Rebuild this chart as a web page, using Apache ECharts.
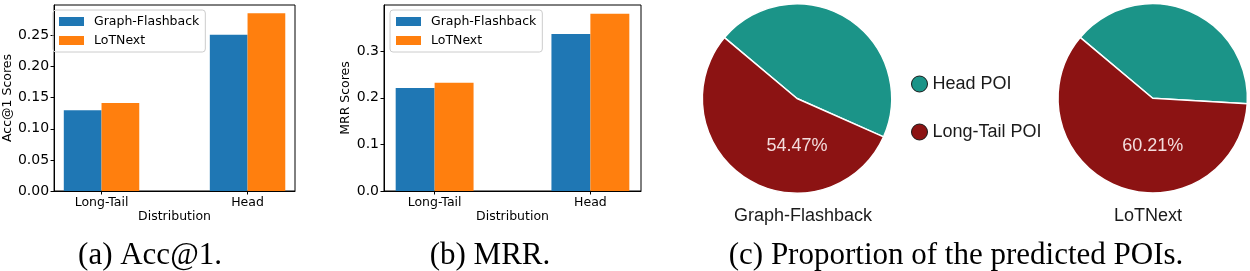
<!DOCTYPE html>
<html>
<head>
<meta charset="utf-8">
<script src="https://cdn.jsdelivr.net/npm/echarts@6.0.0/dist/echarts.min.js"></script>
<style>
  html, body { margin: 0; padding: 0; background: #fff; }
  #chart { width: 1250px; height: 271px; }
</style>
</head>
<body>
<div id="chart"></div>
<script>
const categories = ['Long-Tail', 'Head']
const methods = ['Graph-Flashback', 'LoTNext']
const acc1Flashback = [0.130, 0.251]
const acc1LoTNext = [0.1415, 0.2857]
const mrrFlashback = [0.2207, 0.337]
const mrrLoTNext = [0.232, 0.380]
const poiTypes = ['Head POI', 'Long-Tail POI']
const flashbackShare = [45.53, 54.47]
const lotnextShare = [39.79, 60.21]
const captions = ['(a) Acc@1.', '(b) MRR.', '(c) Proportion of the predicted POIs.']

const barColors = ['#1f77b4', '#ff7f0e']
const pieColors = ['#1b9488', '#8c1313']
const mpl = 'DejaVu Sans'
const sans = 'Liberation Sans'

const grids = [
  { left: 46, top: 5, width: 249, height: 186 },
  { left: 384, top: 5, width: 257, height: 186 },
]
const xMin = -0.325
const xMax = 1.325

const chart = echarts.init(document.getElementById('chart'))

function xAxisFor(gridIndex) {
  return {
    type: 'value',
    gridIndex,
    min: xMin,
    max: xMax,
    name: 'Distribution',
    nameLocation: 'middle',
    nameGap: 19,
    nameMoveOverlap: false,
    nameTextStyle: { fontFamily: mpl, fontSize: 12.5, color: '#000' },
    axisLine: { show: true, lineStyle: { color: '#000', width: 1 } },
    axisTick: { show: true, length: 3.5, customValues: [0, 1], lineStyle: { color: '#000' } },
    axisLabel: {
      customValues: [0, 1],
      formatter: (v) => categories[Math.round(v)],
      margin: 5,
      fontFamily: mpl,
      fontSize: 12.5,
      color: '#000',
    },
    splitLine: { show: false },
  }
}

function yAxisFor(gridIndex, name, max, interval, digits, nameGap) {
  return {
    type: 'value',
    gridIndex,
    min: 0,
    max,
    interval,
    name,
    nameLocation: 'middle',
    nameGap,
    nameTextStyle: { fontFamily: mpl, fontSize: 12.5, color: '#000' },
    axisLine: { show: true, onZero: false, lineStyle: { color: '#000', width: 1 } },
    axisTick: { show: true, length: 3.5, lineStyle: { color: '#000' } },
    axisLabel: {
      showMaxLabel: false,
      formatter: (v) => v.toFixed(digits),
      margin: 5,
      fontFamily: mpl,
      fontSize: 14,
      color: '#000',
    },
    splitLine: { show: false },
  }
}

function barSeries(gridIndex, name, values, color) {
  // bar is 0.25 data units wide, like the matplotlib source
  const bw = 0.25 / (xMax - xMin) * grids[gridIndex].width
  return {
    type: 'bar',
    name,
    xAxisIndex: gridIndex,
    yAxisIndex: gridIndex,
    data: values.map((v, i) => [i, v]),
    barWidth: bw,
    barGap: '0%',
    itemStyle: { color },
    emphasis: { disabled: true },
  }
}

function barLegend(left) {
  return {
    data: methods,
    orient: 'vertical',
    left,
    top: 10,
    icon: 'rect',
    itemWidth: 25,
    itemHeight: 9,
    itemGap: 4,
    padding: [4, 6, 4, 6],
    borderColor: '#cccccc',
    borderWidth: 1,
    borderRadius: 3,
    selectedMode: false,
    textStyle: { fontFamily: mpl, fontSize: 12.5, color: '#000', lineHeight: 15, padding: [0, 0, 0, 5] },
  }
}

function pieSeries(center, values) {
  return {
    type: 'pie',
    center,
    radius: 94.7,
    startAngle: 140,
    clockwise: true,
    animation: false,
    data: poiTypes.map((n, i) => ({
      name: n,
      value: values[i],
      itemStyle: { color: pieColors[i] },
      label: { show: i === 1 },
    })),
    label: {
      position: 'center',
      // empty spacer line pushes the percentage below the pie centre
      formatter: '{pad|}\n{v|{d}%}',
      rich: {
        pad: { height: 96 },
        v: { fontFamily: sans, fontSize: 18, color: '#f3dddd', height: 20 },
      },
    },
    labelLine: { show: false },
    itemStyle: { borderColor: '#ffffff', borderWidth: 1.5 },
    emphasis: { disabled: true },
  }
}

function text(str, x, y, font, fill) {
  return {
    type: 'text',
    x,
    y,
    style: { text: str, font, fill, textAlign: 'center', textVerticalAlign: 'middle', align: 'center', verticalAlign: 'middle' },
  }
}

chart.setOption({
  animation: false,
  grid: grids.map((g) => ({ ...g, show: true, borderColor: '#000', borderWidth: 1, backgroundColor: 'transparent' })),
  xAxis: [xAxisFor(0), xAxisFor(1)],
  yAxis: [
    yAxisFor(0, 'Acc@1 Scores', 0.299, 0.05, 2, 39),
    yAxisFor(1, 'MRR Scores', 0.399, 0.1, 1, 32),
  ],
  legend: [
    barLegend(53),
    barLegend(390),
    {
      data: poiTypes,
      orient: 'vertical',
      left: 911,
      top: 75,
      icon: 'circle',
      itemWidth: 16,
      itemHeight: 16,
      itemGap: 30,
      padding: 0,
      selectedMode: false,
      itemStyle: { borderColor: '#1a1a1a', borderWidth: 1 },
      textStyle: { fontFamily: sans, fontSize: 18, color: '#1a1a1a' },
    },
  ],
  series: [
    barSeries(0, methods[0], acc1Flashback, barColors[0]),
    barSeries(0, methods[1], acc1LoTNext, barColors[1]),
    barSeries(1, methods[0], mrrFlashback, barColors[0]),
    barSeries(1, methods[1], mrrLoTNext, barColors[1]),
    pieSeries([797, 98.5], flashbackShare),
    pieSeries([1152.7, 98.3], lotnextShare),
  ],
  graphic: [
    text(methods[0], 803, 216.5, '18px "Liberation Sans"', '#1a1a1a'),
    text(methods[1], 1148, 216.5, '18px "Liberation Sans"', '#1a1a1a'),
    text(captions[0], 150, 256, '31px "Liberation Serif"', '#000'),
    text(captions[1], 490, 256, '31px "Liberation Serif"', '#000'),
    text(captions[2], 956, 256, '31px "Liberation Serif"', '#000'),
  ],
})

window.addEventListener('resize', () => chart.resize())
</script>
</body>
</html>
